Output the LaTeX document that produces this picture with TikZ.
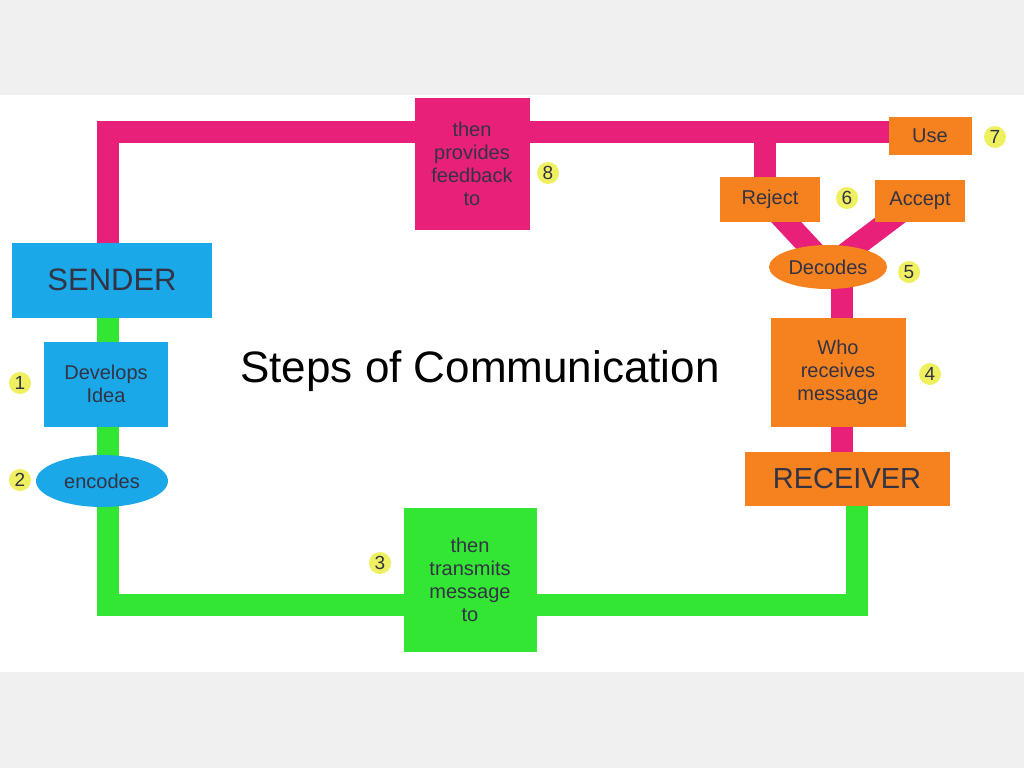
\documentclass[tikz,border=0pt]{standalone}
\usepackage{fontspec}
\setmainfont{Liberation Sans}
\usetikzlibrary{shapes.geometric}
\definecolor{blu}{HTML}{1AA8E8}
\definecolor{pnk}{HTML}{E8207A}
\definecolor{grn}{HTML}{33E633}
\definecolor{org}{HTML}{F5821F}
\definecolor{yel}{HTML}{EFF060}
\definecolor{txt}{HTML}{333344}
\begin{document}
\begin{tikzpicture}[x=1pt,y=-1pt,
  box/.style={rectangle,inner sep=0,text=txt,font=\fontsize{20}{23}\selectfont,align=center},
  el/.style={ellipse,inner sep=0,text=txt,font=\fontsize{20}{23}\selectfont},
  num/.style={circle,fill=yel,minimum size=22,inner sep=0,text=txt,font=\fontsize{19}{20}\selectfont},
  pl/.style={draw=pnk,line width=22},
  gl/.style={draw=grn,line width=22}]
\useasboundingbox (0,0) rectangle (1024,768);
\fill[gray!12] (0,0) rectangle (1024,768);
\fill[white] (0,95) rectangle (1024,672);
% lines
\coordinate (tl) at (108,132);
\coordinate (tr) at (890,132);
\coordinate (bl) at (108,605);
\coordinate (br) at (857,605);
\draw[pl] (108,250) -- (tl) -- (tr);
\draw[pl] (765,132) -- (765,190);
\draw[pl] (775,210) -- (828,267) -- (910,205);
\draw[pl] (842,267) -- (842,470);
\draw[gl] (108,310) -- (bl) -- (br) -- (857,500);
% nodes
\node[box,fill=blu,minimum width=200,minimum height=75,font=\fontsize{31}{34}\selectfont] (snd) at (112,280) {SENDER};
\node[box,fill=blu,minimum width=124,minimum height=85] (dev) at (106,384) {Develops\\Idea};
\node[el,fill=blu,minimum width=132,minimum height=52] (enc) at (102,481) {encodes};
\node[box,fill=pnk,minimum width=115,minimum height=132] (fb) at (472,164) {then\\provides\\feedback\\to};
\node[box,fill=grn,minimum width=133,minimum height=144] (tx) at (470,580) {then\\transmits\\message\\to};
\node[box,fill=org,minimum width=83,minimum height=38] (use) at (930,136) {Use};
\node[box,fill=org,minimum width=100,minimum height=45] (rej) at (770,199) {Reject};
\node[box,fill=org,minimum width=90,minimum height=42] (acc) at (920,201) {Accept};
\node[el,fill=org,minimum width=118,minimum height=44] (dec) at (828,267) {Decodes};
\node[box,fill=org,minimum width=135,minimum height=109] (who) at (838,372) {Who\\receives\\message};
\node[box,fill=org,minimum width=205,minimum height=54,font=\fontsize{29}{32}\selectfont] (rcv) at (847,479) {RECEIVER};
\node[num] (n1) at (20,383) {1};
\node[num] (n2) at (20,480) {2};
\node[num] (n3) at (380,563) {3};
\node[num] (n4) at (930,374) {4};
\node[num] (n5) at (909,272) {5};
\node[num] (n6) at (847,198) {6};
\node[num] (n7) at (995,137) {7};
\node[num] (n8) at (548,173) {8};
\node[font=\fontsize{44}{48}\selectfont] (title) at (480,371) {Steps of Communication};
\end{tikzpicture}
\end{document}
